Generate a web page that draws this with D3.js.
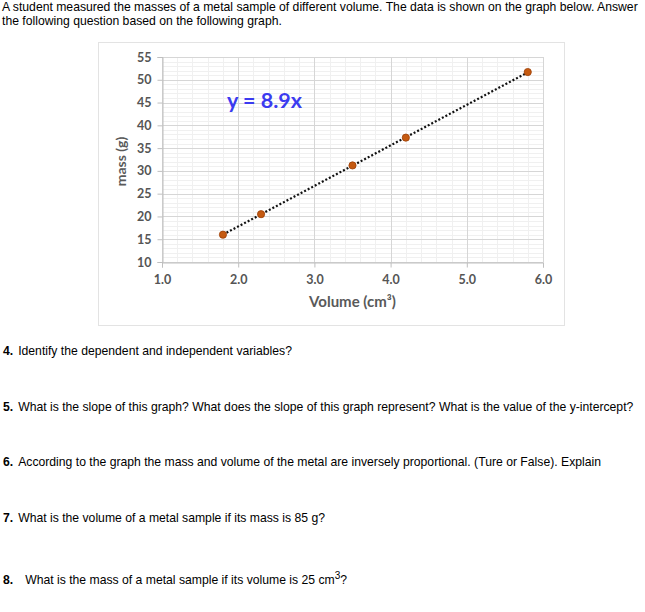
<!DOCTYPE html>
<html>
<head>
<meta charset="utf-8">
<script src="https://cdn.jsdelivr.net/npm/d3@7"></script>
<style>
  body { margin: 0; background: #fff; }
  svg { display: block; }
  .q { font-family: "Liberation Sans", Arial, sans-serif; font-size: 12.2px; fill: #000; }
</style>
</head>
<body>
<script>
(function(){

    //sample data
    var volume = [1.8, 2.3, 3.5, 4.2, 5.8]; //cm3
    var mass = [16.0, 20.5, 31.2, 37.3, 51.7]; //g
    var slope = 8.9; //trendline y = 8.9x
    var xTicks = [1, 2, 3, 4, 5, 6];
    var yTicks = [10, 15, 20, 25, 30, 35, 40, 45, 50, 55];

    var headerLines = [
        "A student measured the masses of a metal sample of different volume. The data is shown on the graph below. Answer",
        "the following question based on the following graph."
    ];
    var questions = [
        ["4.", "Identify the dependent and independent variables?"],
        ["5.", "What is the slope of this graph? What does the slope of this graph represent? What is the value of the y-intercept?"],
        ["6.", "According to the graph the mass and volume of the metal are inversely proportional. (Ture or False). Explain"],
        ["7.", "What is the volume of a metal sample if its mass is 85 g?"],
        ["8.", "What is the mass of a metal sample if its volume is 25 cm"]
    ];

    var width = 645,
        height = 612;

    var chartFont = "Lato, 'Open Sans', sans-serif";

    var svg = d3.select("body")
        .append("svg")
        .attr("width", width)
        .attr("height", height);

    //header text
    svg.selectAll(".header")
        .data(headerLines)
        .enter()
        .append("text")
        .attr("class", "q")
        .attr("x", 2)
        .attr("y", function(d, i){ return 11 + i * 14; })
        .text(function(d){ return d; });

    //chart frame
    svg.append("rect")
        .attr("x", 98.5)
        .attr("y", 42.5)
        .attr("width", 466)
        .attr("height", 283)
        .attr("fill", "none")
        .attr("stroke", "#e3e3e3");

    var plot = {left: 162, right: 543, top: 57, bottom: 262};

    var x = d3.scaleLinear()
        .domain([1, 6])
        .range([plot.left, plot.right]);

    var y = d3.scaleLinear()
        .domain([10, 55])
        .range([plot.bottom, plot.top]);

    //minor gridlines
    var grid = svg.append("g").attr("class", "grid");
    grid.selectAll(".minorX")
        .data(d3.range(1, 6.001, 0.2))
        .enter()
        .append("line")
        .attr("x1", function(d){ return Math.round(x(d)) + 0.5; })
        .attr("x2", function(d){ return Math.round(x(d)) + 0.5; })
        .attr("y1", plot.top)
        .attr("y2", plot.bottom)
        .attr("stroke", "#f0f0f0");
    grid.selectAll(".minorY")
        .data(d3.range(10, 55.001, 1))
        .enter()
        .append("line")
        .attr("x1", plot.left)
        .attr("x2", plot.right)
        .attr("y1", function(d){ return Math.round(y(d)) + 0.5; })
        .attr("y2", function(d){ return Math.round(y(d)) + 0.5; })
        .attr("stroke", "#f0f0f0");

    //major gridlines
    grid.selectAll(".majorX")
        .data(xTicks)
        .enter()
        .append("line")
        .attr("x1", function(d){ return Math.round(x(d)) + 0.5; })
        .attr("x2", function(d){ return Math.round(x(d)) + 0.5; })
        .attr("y1", plot.top)
        .attr("y2", plot.bottom)
        .attr("stroke", "#d6d6d6");
    grid.selectAll(".majorY")
        .data(yTicks)
        .enter()
        .append("line")
        .attr("x1", plot.left)
        .attr("x2", plot.right)
        .attr("y1", function(d){ return Math.round(y(d)) + 0.5; })
        .attr("y2", function(d){ return Math.round(y(d)) + 0.5; })
        .attr("stroke", "#d6d6d6");

    //axes
    var xAxis = d3.axisBottom(x)
        .tickValues(xTicks)
        .tickFormat(d3.format(".1f"))
        .tickSize(5)
        .tickPadding(8);
    var yAxis = d3.axisLeft(y)
        .tickValues(yTicks)
        .tickSize(5)
        .tickPadding(6);

    var gx = svg.append("g")
        .attr("transform", "translate(0," + (plot.bottom + 0.5) + ")")
        .call(xAxis);
    var gy = svg.append("g")
        .attr("transform", "translate(" + (plot.left + 0.5) + ",0)")
        .call(yAxis);
    [gx, gy].forEach(function(g){
        g.select(".domain").attr("stroke", "#bfbfbf");
        g.selectAll(".tick line").attr("stroke", "#bfbfbf");
        g.selectAll(".tick text")
            .style("font-family", chartFont)
            .style("font-size", "12.5px")
            .style("font-weight", "bold")
            .style("fill", "#555");
    });

    //axis titles
    svg.append("text")
        .attr("x", (plot.left + plot.right) / 2)
        .attr("y", 307)
        .attr("text-anchor", "middle")
        .style("font-family", chartFont)
        .style("font-size", "15px")
        .style("font-weight", "bold")
        .style("fill", "#595959")
        .text("Volume (cm³)");

    svg.append("text")
        .attr("transform", "translate(126," + ((plot.top + plot.bottom) / 2 + 2) + ") rotate(-90)")
        .attr("text-anchor", "middle")
        .style("font-family", chartFont)
        .style("font-size", "14px")
        .style("font-weight", "bold")
        .style("fill", "#595959")
        .text("mass (g)");

    //trendline y = slope * x across the data range
    var xExtent = d3.extent(volume);
    var line = d3.line()
        .x(function(d){ return x(d); })
        .y(function(d){ return y(slope * d); });
    svg.append("path")
        .datum(xExtent)
        .attr("d", line)
        .attr("fill", "none")
        .attr("stroke", "#111")
        .attr("stroke-width", 2.2)
        .attr("stroke-dasharray", "2,2");

    //data points
    svg.selectAll(".pt")
        .data(volume)
        .enter()
        .append("circle")
        .attr("cx", function(d){ return x(d); })
        .attr("cy", function(d, i){ return y(mass[i]); })
        .attr("r", 3.6)
        .attr("fill", "#c55a11")
        .attr("stroke", "#9c3f06")
        .attr("stroke-width", 0.8);

    //equation label
    svg.append("text")
        .attr("x", 227)
        .attr("y", 108)
        .style("font-family", chartFont)
        .style("font-size", "21.5px")
        .style("font-weight", "bold")
        .style("fill", "#3b3bf0")
        .text("y = " + slope + "x");

    //questions
    var qY = [355, 411, 466, 522, 584];
    var qg = svg.selectAll(".question")
        .data(questions)
        .enter()
        .append("text")
        .attr("class", "q")
        .attr("x", 3)
        .attr("y", function(d, i){ return qY[i]; });
    qg.append("tspan")
        .style("font-weight", "bold")
        .text(function(d){ return d[0]; });
    qg.append("tspan")
        .attr("dx", function(d, i){ return i === 4 ? 12 : 5; })
        .text(function(d){ return d[1]; });
    qg.filter(function(d, i){ return i === 4; })
        .append("tspan")
        .attr("dy", -5)
        .style("font-size", "10px")
        .text("3");
    qg.filter(function(d, i){ return i === 4; })
        .append("tspan")
        .attr("dy", 5)
        .text("?");

})();
</script>
</body>
</html>
